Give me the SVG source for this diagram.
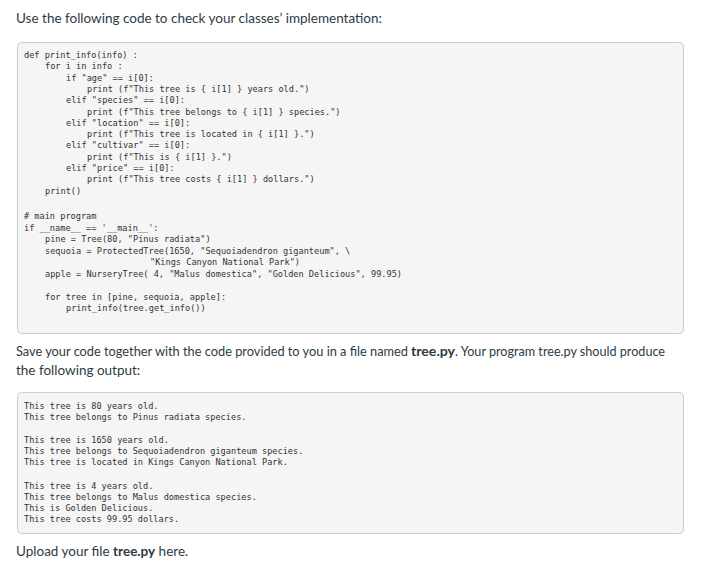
<svg xmlns="http://www.w3.org/2000/svg" width="703" height="564" viewBox="0 0 703 564">
<style>
.p{font-family:Lato,"Open Sans",sans-serif;font-size:13.5px;fill:#2d3b45}
.c{font-family:"DejaVu Sans Mono","Liberation Mono",monospace;font-size:8.6px;fill:#333}
.b{fill:#f5f5f5;stroke:#c7cdd1;stroke-width:1}
</style>
<rect width="703" height="564" fill="#fff"/>
<text class="p" x="16" y="23">Use the following code to check your classes’ implementation:</text>
<rect class="b" x="17.5" y="42.5" width="666" height="291" rx="4"/>
<g class="c">
<text x="24" y="58">def print_info(info) :</text>
<text x="45" y="69.3">for i in info :</text>
<text x="66" y="80.6">if "age" == i[0]:</text>
<text x="87" y="91.9">print (f"This tree is { i[1] } years old.")</text>
<text x="66" y="103.2">elif "species" == i[0]:</text>
<text x="87" y="114.5">print (f"This tree belongs to { i[1] } species.")</text>
<text x="66" y="125.8">elif "location" == i[0]:</text>
<text x="87" y="137.1">print (f"This tree is located in { i[1] }.")</text>
<text x="66" y="148.4">elif "cultivar" == i[0]:</text>
<text x="87" y="159.7">print (f"This is { i[1] }.")</text>
<text x="66" y="171">elif "price" == i[0]:</text>
<text x="87" y="182.3">print (f"This tree costs { i[1] } dollars.")</text>
<text x="45" y="193.6">print()</text>
<text x="24" y="219"># main program</text>
<text x="24" y="230.5">if __name__ == '__main__':</text>
<text x="45" y="242">pine = Tree(80, "Pinus radiata")</text>
<text x="45" y="253.5">sequoia = ProtectedTree(1650, "Sequoiadendron giganteum", \</text>
<text x="150" y="265">"Kings Canyon National Park")</text>
<text x="45" y="276.5">apple = NurseryTree( 4, "Malus domestica", "Golden Delicious", 99.95)</text>
<text x="45" y="299.5">for tree in [pine, sequoia, apple]:</text>
<text x="66" y="311">print_info(tree.get_info())</text>
</g>
<text class="p" x="16" y="356" textLength="392" lengthAdjust="spacingAndGlyphs">Save your code together with the code provided to you in a file named</text>
<text class="p" x="411" y="356" font-weight="bold" textLength="44" lengthAdjust="spacingAndGlyphs">tree.py</text>
<text class="p" x="455" y="356" textLength="210" lengthAdjust="spacingAndGlyphs">. Your program tree.py should produce</text>
<text class="p" x="16" y="375">the following output:</text>
<rect class="b" x="17.5" y="392.5" width="666" height="141" rx="4"/>
<g class="c">
<text x="24" y="409">This tree is 80 years old.</text>
<text x="24" y="420.3">This tree belongs to Pinus radiata species.</text>
<text x="24" y="442.5">This tree is 1650 years old.</text>
<text x="24" y="453.8">This tree belongs to Sequoiadendron giganteum species.</text>
<text x="24" y="465.1">This tree is located in Kings Canyon National Park.</text>
<text x="24" y="488.5">This tree is 4 years old.</text>
<text x="24" y="499.8">This tree belongs to Malus domestica species.</text>
<text x="24" y="511.1">This is Golden Delicious.</text>
<text x="24" y="522.4">This tree costs 99.95 dollars.</text>
</g>
<text class="p" x="16" y="556">Upload your file <tspan font-weight="bold">tree.py</tspan> here.</text>
</svg>
